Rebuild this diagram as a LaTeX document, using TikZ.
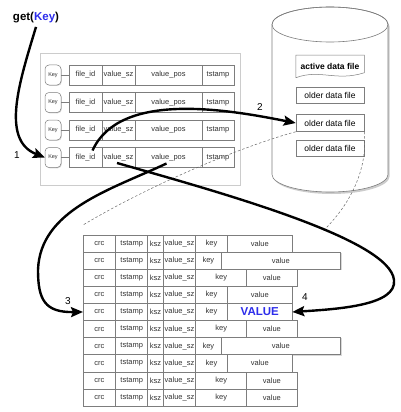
\documentclass[tikz,border=0pt]{standalone}
\usepackage{fontspec}
\setmainfont{Liberation Sans}
\usepackage{xcolor}
\usepackage{tikz}
\usetikzlibrary{arrows.meta, positioning, calc, shadows}
\definecolor{keyblue}{RGB}{45, 45, 235}
\definecolor{cellgray}{RGB}{125, 125, 125}

\begin{document}
\begin{tikzpicture}[
    x=1pt, y=1pt,
    shade/.style={drop shadow={shadow xshift=0.8pt, shadow yshift=-0.8pt, opacity=0.3}},
    cell/.style={rectangle, draw=cellgray, fill=white, line width=0.5pt, inner sep=0.5pt, outer sep=0pt, text=black!80, font=\fontsize{7.5}{8}\selectfont, shade},
    dircell/.style={cell, minimum height=20pt},
    logcell/.style={cell, minimum height=17.1pt},
    keybox/.style={cell, rounded corners=4pt, minimum width=16pt, minimum height=20pt, font=\fontsize{5.5}{6}\selectfont},
    panel/.style={rectangle, draw=gray!40, fill=white, line width=0.6pt, drop shadow={shadow xshift=1.2pt, shadow yshift=-1.2pt, opacity=0.35}},
    filebox/.style={rectangle, draw=cellgray, fill=white, line width=0.5pt, minimum width=68pt, inner sep=0pt, font=\fontsize{8.5}{9}\selectfont},
    hit/.style={logcell, text=keyblue, font=\fontsize{11.5}{12}\bfseries},
    arrow/.style={-{Stealth[length=12pt, width=10pt, inset=2pt]}, line width=2.4pt},
    link/.style={gray!80!black, line width=0.5pt, dash pattern=on 2.5pt off 2pt},
    num/.style={font=\fontsize{10}{10}\selectfont}
]
\useasboundingbox (0,0) rectangle (400,-412);

% Request
\node[font=\fontsize{11.5}{12}\bfseries\selectfont] (get) at (36,-18) {get(\textcolor{keyblue}{Key})};

% Keydir
\node[panel, minimum width=200pt, minimum height=132pt] (keydir) at (140,-119) {};
\foreach \i in {1,...,4} {
    \pgfmathsetmacro{\ry}{-75-27.5*(\i-1)}
    \node[keybox] (k\i) at (53,\ry) {Key};
    \node[dircell, minimum width=33pt, anchor=west] (f\i) at (69,\ry) {file\_id};
    \node[dircell, minimum width=33pt, right=0pt of f\i] (vs\i) {value\_sz};
    \node[dircell, minimum width=67pt, right=0pt of vs\i] (vp\i) {value\_pos};
    \node[dircell, minimum width=32pt, right=0pt of vp\i] (ts\i) {tstamp};
    \draw[cellgray, line width=0.5pt] (k\i) -- (f\i);
}

% Disk
\path[draw=cellgray, fill=white, line width=0.6pt, drop shadow={shadow xshift=1.5pt, shadow yshift=-2pt, opacity=0.4}]
    (272,-24.5) -- (272,-174.5) arc[start angle=180, end angle=360, x radius=58, y radius=17.5]
    -- (388,-24.5) arc[start angle=0, end angle=180, x radius=58, y radius=17.5] -- cycle;
\draw[cellgray, line width=0.6pt] (330,-24.5) ellipse[x radius=58, y radius=17.5];

% Data files
\node[filebox, draw=none, minimum height=21pt] (active) at (330,-66) {\bfseries active data file};
\draw[cellgray, line width=0.5pt] ([yshift=-1pt]active.south west) -- (active.north west) -- (active.north east)
    -- ([yshift=4pt]active.south east) .. controls ([xshift=-28pt, yshift=-5pt]active.south east)
    and ([xshift=24pt, yshift=8pt]active.south west) .. ([yshift=-1pt]active.south west);
\node[filebox, minimum height=16pt] (older1) at (330,-95.5) {older data file};
\node[filebox, minimum height=17pt] (older2) at (330,-123) {older data file};
\node[filebox, minimum height=16pt] (older3) at (330,-148) {older data file};

% Log file
\foreach \i/\kw/\vw/\vs/\vt in {1/31.6/65/logcell/value, 2/25.3/119.7/logcell/value,
    3/51/50.5/logcell/value, 4/31.6/65/logcell/value, 5/31.6/65/hit/VALUE,
    6/51/50.5/logcell/value, 7/25.3/119.7/logcell/value, 8/31.6/65/logcell/value,
    9/51/50.5/logcell/value, 10/51/50.5/logcell/value} {
    \pgfmathsetmacro{\ry}{-235-17.1*(\i-0.5)}
    \node[logcell, minimum width=32.7pt, anchor=west] (crc\i) at (83,\ry) {crc};
    \node[logcell, minimum width=32pt, right=0pt of crc\i] (lts\i) {tstamp};
    \node[logcell, minimum width=15.6pt, right=0pt of lts\i] (ksz\i) {ksz};
    \node[logcell, minimum width=32.4pt, right=0pt of ksz\i] (vsz\i) {value\_sz};
    \node[logcell, minimum width=\kw pt, right=0pt of vsz\i] (key\i) {key};
    \node[\vs, minimum width=\vw pt, right=0pt of key\i] (val\i) {\vt};
}

% Projection of the file
\coordinate (proj1) at ([yshift=10pt]crc1.north west);
\coordinate (proj2) at (322,-232);
\draw[link] (older2.south west) .. controls (240,-147) and (150,-185) .. (proj1);
\draw[link] (older2.south east) .. controls (368,-170) and (350,-205) .. (proj2);

% Steps
\draw[arrow] (get.south) .. controls (20,-80) and (0,-140) .. (k4.west);
\node[num] at (17,-155) {1};
\draw[arrow] ([shift={(7,7)}]f4.center) .. controls (120,-90) and (230,-110) .. (older2.west);
\node[num] at (260,-107) {2};
\draw[arrow] ([shift={(-2,-6)}]vp4.center) .. controls (110,-190) and (40,-210) .. (38,-270)
    .. controls (38,-300) and (45,-312.5) .. (crc5.west);
\node[num] at (68,-301) {3};
\draw[arrow] ([shift={(-1.5,-5.5)}]vs4.center) .. controls (230,-195) and (390,-240) .. (394,-280)
    .. controls (397,-305) and (340,-309) .. (val5.east);
\node[num] at (305,-297) {4};

\end{tikzpicture}
\end{document}
